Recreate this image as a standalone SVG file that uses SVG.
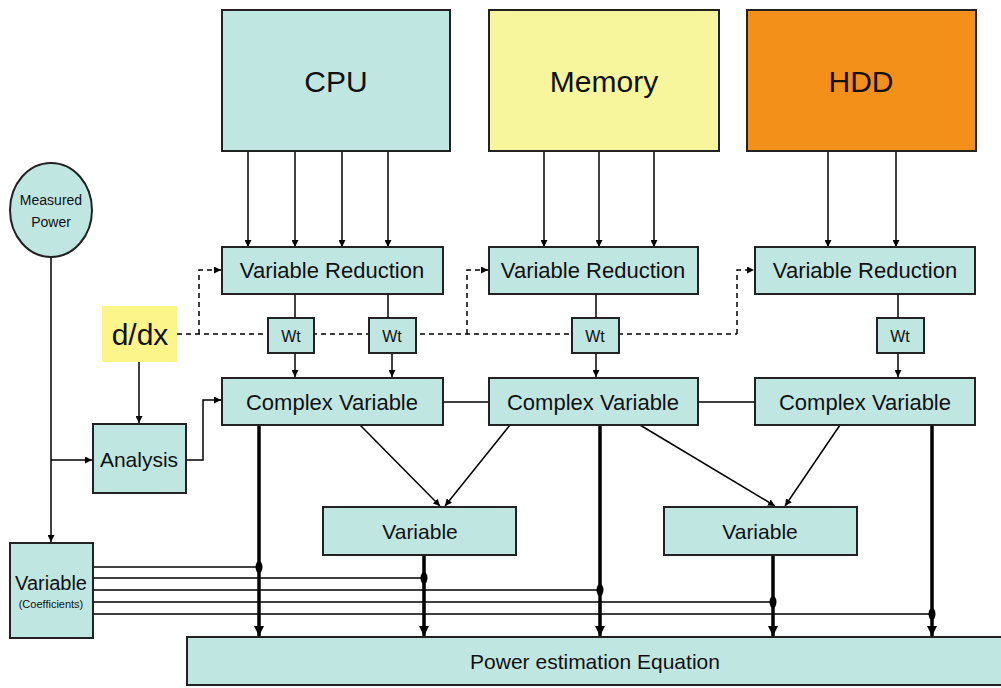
<svg xmlns="http://www.w3.org/2000/svg" width="1001" height="688" viewBox="0 0 1001 688">
<defs>
<marker id="a" viewBox="0 0 10 10" refX="10" refY="5" markerWidth="7" markerHeight="7" orient="auto" markerUnits="userSpaceOnUse"><path d="M0,0 L10,5 L0,10 z" fill="#000"/></marker>
<marker id="b" viewBox="0 0 10 10" refX="10" refY="5" markerWidth="10" markerHeight="10" orient="auto" markerUnits="userSpaceOnUse"><path d="M0,0 L10,5 L0,10 z" fill="#000"/></marker>
</defs>
<style>
rect,ellipse{stroke:#222;stroke-width:2}
.t{fill:#c0e6e2}
text{font-family:"Liberation Sans Narrow","Liberation Sans",Arial,sans-serif;text-anchor:middle;fill:#111}
.c line,.c path{stroke:#000;stroke-width:1.5;fill:none}
.c .d{stroke-dasharray:5,4}
.c .k{stroke-width:3.5}
</style>
<rect width="1001" height="688" fill="#fff" style="stroke:none"/>
<g class="c">
<line x1="248" y1="151" x2="248" y2="247" marker-end="url(#a)"/>
<line x1="295" y1="151" x2="295" y2="247" marker-end="url(#a)"/>
<line x1="342" y1="151" x2="342" y2="247" marker-end="url(#a)"/>
<line x1="388" y1="151" x2="388" y2="247" marker-end="url(#a)"/>
<line x1="544" y1="151" x2="544" y2="247" marker-end="url(#a)"/>
<line x1="599" y1="151" x2="599" y2="247" marker-end="url(#a)"/>
<line x1="654" y1="151" x2="654" y2="247" marker-end="url(#a)"/>
<line x1="828" y1="151" x2="828" y2="247" marker-end="url(#a)"/>
<line x1="896" y1="151" x2="896" y2="247" marker-end="url(#a)"/>
<line x1="295" y1="294" x2="295" y2="318"/><line x1="388" y1="294" x2="388" y2="318"/>
<line x1="596" y1="294" x2="596" y2="318"/><line x1="898" y1="294" x2="898" y2="318"/>
<line x1="295" y1="353" x2="295" y2="377" marker-end="url(#a)"/>
<line x1="392" y1="353" x2="392" y2="377" marker-end="url(#a)"/>
<line x1="596" y1="353" x2="596" y2="377" marker-end="url(#a)"/>
<line x1="898" y1="353" x2="898" y2="377" marker-end="url(#a)"/>
<path class="d" d="M177,334 H737"/>
<path class="d" d="M199,334 V270 H221" marker-end="url(#a)"/>
<path class="d" d="M467,334 V270 H488" marker-end="url(#a)"/>
<path class="d" d="M737,334 V270 H754" marker-end="url(#a)"/>
<line x1="432" y1="402" x2="489" y2="402"/><line x1="698" y1="402" x2="755" y2="402"/>
<line x1="139" y1="362" x2="139" y2="423" marker-end="url(#a)"/>
<path d="M186,460 H203 V400 H221" marker-end="url(#a)"/>
<line x1="51" y1="258" x2="51" y2="542" marker-end="url(#a)"/>
<line x1="51" y1="460" x2="92" y2="460" marker-end="url(#a)"/>
<line x1="360" y1="425" x2="440" y2="506" marker-end="url(#a)"/>
<line x1="510" y1="425" x2="445" y2="506" marker-end="url(#a)"/>
<line x1="640" y1="425" x2="775" y2="506" marker-end="url(#a)"/>
<line x1="840" y1="425" x2="785" y2="506" marker-end="url(#a)"/>
<line x1="93" y1="567" x2="259" y2="567"/>
<line x1="93" y1="578" x2="424" y2="578"/>
<line x1="93" y1="590" x2="600" y2="590"/>
<line x1="93" y1="602" x2="773" y2="602"/>
<line x1="93" y1="614" x2="932" y2="614"/>
<line class="k" x1="259" y1="425" x2="259" y2="636" marker-end="url(#b)"/>
<line class="k" x1="424" y1="555" x2="424" y2="636" marker-end="url(#b)"/>
<line class="k" x1="600" y1="425" x2="600" y2="636" marker-end="url(#b)"/>
<line class="k" x1="773" y1="555" x2="773" y2="636" marker-end="url(#b)"/>
<line class="k" x1="932" y1="425" x2="932" y2="636" marker-end="url(#b)"/>
<ellipse cx="259" cy="567" rx="3.5" ry="6" style="stroke:none"/>
<ellipse cx="424" cy="578" rx="3.5" ry="6" style="stroke:none"/>
<ellipse cx="600" cy="590" rx="3.5" ry="6" style="stroke:none"/>
<ellipse cx="773" cy="602" rx="3.5" ry="6" style="stroke:none"/>
<ellipse cx="932" cy="614" rx="3.5" ry="6" style="stroke:none"/>
</g>
<g id="cpu"><rect x="222" y="10" width="228" height="141" class="t"/><text x="336" y="92" font-size="30">CPU</text></g>
<g id="memory"><rect x="489" y="10" width="230" height="141" fill="#f7f69c"/><text x="604" y="92" font-size="30">Memory</text></g>
<g id="hdd"><rect x="747" y="10" width="229" height="141" fill="#f39019"/><text x="861" y="92" font-size="30">HDD</text></g>
<g id="vr1"><rect x="222" y="247" width="221" height="47" class="t"/><text x="332" y="278" font-size="22">Variable Reduction</text></g>
<g id="vr2"><rect x="489" y="247" width="209" height="47" class="t"/><text x="593" y="278" font-size="22">Variable Reduction</text></g>
<g id="vr3"><rect x="755" y="247" width="220" height="47" class="t"/><text x="865" y="278" font-size="22">Variable Reduction</text></g>
<g id="wt1"><rect x="268" y="318" width="46" height="35" class="t"/><text x="291" y="342" font-size="16">Wt</text></g>
<g id="wt2"><rect x="369" y="318" width="47" height="35" class="t"/><text x="392" y="342" font-size="16">Wt</text></g>
<g id="wt3"><rect x="572" y="318" width="47" height="35" class="t"/><text x="595" y="342" font-size="16">Wt</text></g>
<g id="wt4"><rect x="877" y="318" width="47" height="35" class="t"/><text x="900" y="342" font-size="16">Wt</text></g>
<g id="ddx"><rect x="102" y="306" width="75" height="56" fill="#fbf58a" style="stroke:none"/><text x="140" y="345" font-size="30">d/dx</text></g>
<g id="cv1"><rect x="222" y="378" width="221" height="47" class="t"/><text x="332" y="410" font-size="22">Complex Variable</text></g>
<g id="cv2"><rect x="489" y="378" width="209" height="47" class="t"/><text x="593" y="410" font-size="22">Complex Variable</text></g>
<g id="cv3"><rect x="755" y="378" width="220" height="47" class="t"/><text x="865" y="410" font-size="22">Complex Variable</text></g>
<g id="analysis"><rect x="93" y="424" width="93" height="69" class="t"/><text x="139" y="467" font-size="21">Analysis</text></g>
<g id="measured"><ellipse cx="51" cy="210" rx="41" ry="47" class="t"/><text x="51" y="205" font-size="14">Measured</text><text x="51" y="227" font-size="14">Power</text></g>
<g id="var1"><rect x="323" y="507" width="193" height="48" class="t"/><text x="420" y="539" font-size="21">Variable</text></g>
<g id="var2"><rect x="664" y="507" width="193" height="48" class="t"/><text x="760" y="539" font-size="21">Variable</text></g>
<g id="coef"><rect x="10" y="543" width="83" height="95" class="t"/><text x="51" y="590" font-size="20">Variable</text><text x="51" y="608" font-size="11">(Coefficients)</text></g>
<g id="power"><rect x="187" y="637" width="820" height="48" class="t"/><text x="595" y="669" font-size="21">Power estimation Equation</text></g>
</svg>
